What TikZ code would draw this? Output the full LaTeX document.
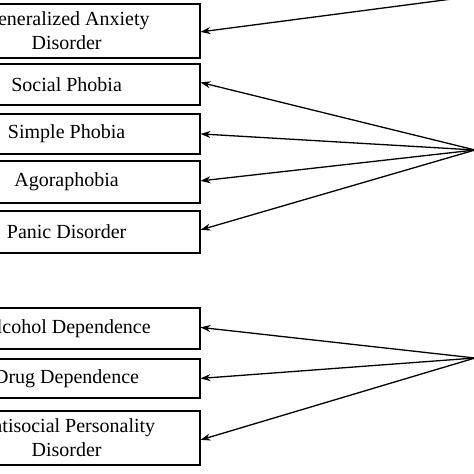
\documentclass[tikz,border=0pt]{standalone}
\usepackage{fontspec}
\setmainfont{Liberation Serif}
\usetikzlibrary{arrows.meta}
\begin{document}
\begin{tikzpicture}[x=1pt,y=-1pt,
  dbox/.style={draw=black,line width=1.8pt,minimum width=266pt,inner sep=0pt,align=center,
    font=\fontsize{20}{24}\selectfont,anchor=north east},
  conn/.style={line width=1.3pt,-{Stealth[length=10pt,width=7pt]}}]
\useasboundingbox (0,0) rectangle (474,474);
\clip (0,0) rectangle (474,474);
\fill[white] (0,0) rectangle (474,474);
\node[dbox,minimum height=54pt] (gad) at (200.5,3) {Generalized Anxiety\\Disorder};
\node[dbox,minimum height=41pt] (soc) at (200.5,63) {Social Phobia};
\node[dbox,minimum height=40pt] (sim) at (200.5,113) {Simple Phobia};
\node[dbox,minimum height=42pt] (ago) at (200.5,160) {Agoraphobia};
\node[dbox,minimum height=42pt] (pan) at (200.5,210) {Panic Disorder};
\node[dbox,minimum height=41pt] (alc) at (200.5,307) {Alcohol Dependence};
\node[dbox,minimum height=39pt] (drg) at (200.5,358) {Drug Dependence};
\node[dbox,minimum height=54pt] (asp) at (200.5,410) {Antisocial Personality\\Disorder};
\coordinate (top) at (452,-1);
\coordinate (fa) at (475,150);
\coordinate (fb) at (475,358);
\draw[conn] (top) -- ([yshift=-1pt]gad.east);
\draw[conn] (fa) -- ([yshift=2pt]soc.east);
\draw[conn] (fa) -- (sim.east);
\draw[conn] (fa) -- ([yshift=1pt]ago.east);
\draw[conn] (fa) -- ([yshift=2pt]pan.east);
\draw[conn] (fb) -- ([yshift=1pt]alc.east);
\draw[conn] (fb) -- (drg.east);
\draw[conn] (fb) -- ([yshift=-2pt]asp.east);
\end{tikzpicture}
\end{document}
